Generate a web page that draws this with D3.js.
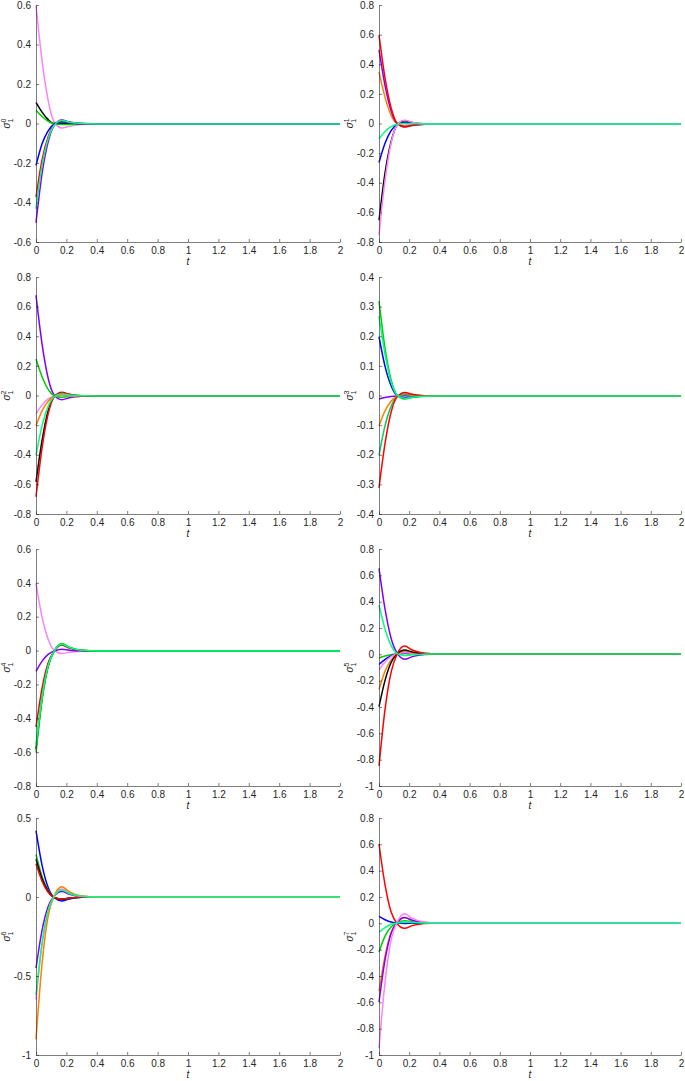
<!DOCTYPE html>
<html><head><meta charset="utf-8">
<script src="https://cdn.jsdelivr.net/npm/d3@7"></script>
<style>body{margin:0;background:#fff}svg{font-family:"Liberation Sans",Arial,sans-serif}</style>
</head><body><svg id="c" width="685" height="1081"></svg>
<script>
const T = [0,0.04,0.08,0.12,0.17,0.22,0.3,0.4,2];
const xTicks = [0,0.2,0.4,0.6,0.8,1,1.2,1.4,1.6,1.8,2];
const C = {pink:"#ff80ff",black:"#000000",green:"#00cc00",blue:"#0000ff",red:"#ff0000",spring:"#00ff80",purple:"#8000ff",orange:"#ff8000",teal:"#00cc66"};
const panels = [
 {idx:0, ylim:[-0.6,0.6], yTicks:[-0.6,-0.4,-0.2,0,0.2,0.4,0.6], series:[
  ["pink",[0.6,0.32,0.12,0.01,-0.02,-0.012,-0.003,0,0]],
  ["black",[0.11,0.06,0.022,0.002,0.004,0.002,0,0,0]],
  ["green",[0.07,0.038,0.014,0.001,-0.003,-0.002,0,0,0]],
  ["blue",[-0.21,-0.1,-0.035,0,0.012,0.006,0.001,0,0]],
  ["red",[-0.37,-0.18,-0.065,-0.005,0.018,0.009,0.002,0,0]],
  ["purple",[-0.5,-0.25,-0.09,-0.007,0.02,0.01,0.002,0,0]],
  ["spring",[-0.43,-0.21,-0.075,-0.006,0.018,0.009,0.002,0,0]]]},
 {idx:1, ylim:[-0.8,0.8], yTicks:[-0.8,-0.6,-0.4,-0.2,0,0.2,0.4,0.6,0.8], series:[
  ["orange",[0.35,0.18,0.06,0.003,-0.01,-0.005,-0.001,0,0]],
  ["purple",[0.5,0.26,0.09,0.004,-0.018,-0.009,-0.002,0,0]],
  ["red",[0.6,0.31,0.11,0.005,-0.02,-0.01,-0.002,0,0]],
  ["blue",[-0.26,-0.13,-0.045,-0.003,0.01,0.005,0.001,0,0]],
  ["black",[-0.65,-0.33,-0.12,-0.006,0.022,0.011,0.002,0,0]],
  ["pink",[-0.75,-0.38,-0.13,-0.007,0.025,0.012,0.002,0,0]],
  ["spring",[-0.1,-0.05,-0.018,-0.001,0.003,0.002,0,0,0]]]},
 {idx:2, ylim:[-0.8,0.8], yTicks:[-0.8,-0.6,-0.4,-0.2,0,0.2,0.4,0.6,0.8], series:[
  ["purple",[0.68,0.35,0.12,0.006,-0.025,-0.012,-0.002,0,0]],
  ["green",[0.25,0.13,0.045,0.002,-0.008,-0.004,-0.001,0,0]],
  ["pink",[-0.12,-0.06,-0.02,-0.001,0.005,0.002,0,0,0]],
  ["orange",[-0.2,-0.1,-0.035,-0.002,0.01,0.005,0.001,0,0]],
  ["black",[-0.58,-0.3,-0.1,-0.005,0.022,0.011,0.002,0,0]],
  ["red",[-0.68,-0.35,-0.12,-0.006,0.025,0.012,0.002,0,0]],
  ["spring",[-0.4,-0.2,-0.07,-0.004,0.015,0.007,0.001,0,0]]]},
 {idx:3, ylim:[-0.4,0.4], yTicks:[-0.4,-0.3,-0.2,-0.1,0,0.1,0.2,0.3,0.4], series:[
  ["green",[0.32,0.16,0.055,0.003,-0.01,-0.005,-0.001,0,0]],
  ["blue",[0.2,0.1,0.035,0.002,-0.006,-0.003,0,0,0]],
  ["purple",[-0.01,-0.005,-0.002,0,0.001,0,0,0,0]],
  ["orange",[-0.1,-0.05,-0.018,-0.001,0.005,0.002,0,0,0]],
  ["teal",[-0.2,-0.1,-0.035,-0.002,0.008,0.004,0.001,0,0]],
  ["red",[-0.31,-0.16,-0.055,-0.003,0.012,0.006,0.001,0,0]],
  ["spring",[0.27,0.14,0.048,0.003,-0.008,-0.004,-0.001,0,0]]]},
 {idx:4, ylim:[-0.8,0.6], yTicks:[-0.8,-0.6,-0.4,-0.2,0,0.2,0.4,0.6], series:[
  ["pink",[0.4,0.2,0.07,0.004,-0.015,-0.008,-0.002,0,0]],
  ["purple",[-0.12,-0.06,-0.02,0,0.01,0.005,0.001,0,0]],
  ["red",[-0.45,-0.22,-0.07,0,0.035,0.017,0.003,0,0]],
  ["black",[-0.58,-0.28,-0.09,0,0.04,0.02,0.004,0,0]],
  ["green",[-0.6,-0.29,-0.09,0,0.045,0.022,0.004,0,0]],
  ["spring",[-0.55,-0.27,-0.085,0,0.04,0.02,0.004,0,0]]]},
 {idx:5, ylim:[-1,0.8], yTicks:[-1,-0.8,-0.6,-0.4,-0.2,0,0.2,0.4,0.6,0.8], series:[
  ["purple",[0.65,0.34,0.12,0.006,-0.04,-0.02,-0.004,0,0]],
  ["green",[-0.03,-0.015,-0.005,0,0.003,0.001,0,0,0]],
  ["blue",[-0.08,-0.04,-0.014,0,0.006,0.003,0,0,0]],
  ["pink",[-0.12,-0.06,-0.02,0,0.01,0.005,0.001,0,0]],
  ["orange",[-0.27,-0.13,-0.045,0,0.02,0.01,0.002,0,0]],
  ["black",[-0.4,-0.2,-0.065,0,0.03,0.015,0.003,0,0]],
  ["red",[-0.85,-0.42,-0.14,0,0.06,0.03,0.006,0,0]],
  ["spring",[0.37,0.19,0.065,0.003,-0.012,-0.006,-0.001,0,0]]]},
 {idx:6, ylim:[-1,0.5], yTicks:[-1,-0.5,0,0.5], series:[
  ["blue",[0.42,0.2,0.06,-0.005,-0.025,-0.012,-0.002,0,0]],
  ["green",[0.27,0.13,0.04,-0.003,-0.015,-0.008,-0.001,0,0]],
  ["black",[0.24,0.115,0.035,-0.003,-0.013,-0.007,-0.001,0,0]],
  ["red",[0.21,0.1,0.03,-0.003,-0.012,-0.006,-0.001,0,0]],
  ["purple",[-0.45,-0.21,-0.06,0.005,0.035,0.017,0.003,0,0]],
  ["pink",[-0.65,-0.3,-0.09,0.006,0.05,0.025,0.005,0,0]],
  ["orange",[-0.9,-0.42,-0.12,0.008,0.065,0.032,0.006,0,0]],
  ["spring",[-0.62,-0.29,-0.085,0.006,0.045,0.022,0.004,0,0]]]},
 {idx:7, ylim:[-1,0.8], yTicks:[-1,-0.8,-0.6,-0.4,-0.2,0,0.2,0.4,0.6,0.8], series:[
  ["red",[0.6,0.29,0.085,-0.005,-0.04,-0.02,-0.004,0,0]],
  ["blue",[0.05,0.025,0.007,0,-0.003,-0.001,0,0,0]],
  ["green",[-0.22,-0.1,-0.03,0.002,0.018,0.009,0.002,0,0]],
  ["orange",[-0.52,-0.25,-0.07,0.004,0.04,0.02,0.004,0,0]],
  ["purple",[-0.6,-0.28,-0.08,0.004,0.042,0.021,0.004,0,0]],
  ["pink",[-0.95,-0.45,-0.13,0.006,0.07,0.035,0.007,0,0]],
  ["spring",[-0.07,-0.035,-0.01,0,0.008,0.004,0,0,0]]]}
];
const svg = d3.select("#c");
const lefts = [[36,340],[379,681]];
const tops = [5,277,549,818];
const H = 237;
const fmt = d => String(+d.toFixed(2));
panels.forEach(p => {
  const col = p.idx % 2, row = Math.floor(p.idx/2);
  const x = d3.scaleLinear().domain([0,2]).range(lefts[col]);
  const y = d3.scaleLinear().domain(p.ylim).range([tops[row]+H, tops[row]]);
  const g = svg.append("g");
  const y0 = y(0), off = Math.round(y0) - y0;
  const lg = g.append("g").attr("transform",`translate(0,${off})`);
  const line = d3.line().x((d,i)=>x(T[i])).y(d=>y(d)).curve(d3.curveMonotoneX);
  p.series.forEach(([c,vals]) => {
    lg.append("path").attr("d", line(vals)).attr("fill","none").attr("stroke",C[c]).attr("stroke-width",1.5);
  });
  const ax = g.append("g").attr("transform",`translate(0,${tops[row]+H})`)
    .call(d3.axisBottom(x).tickValues(xTicks).tickFormat(fmt).tickSizeInner(-3).tickSizeOuter(0).tickPadding(5));
  const ay = g.append("g").attr("transform",`translate(${lefts[col][0]},0)`)
    .call(d3.axisLeft(y).tickValues(p.yTicks).tickFormat(fmt).tickSizeInner(-3).tickSizeOuter(0).tickPadding(5));
  [ax,ay].forEach(a=>{a.selectAll("path,line").attr("stroke","#262626").attr("stroke-width",0.6);
    a.selectAll("text").attr("fill","#262626").attr("font-size",10);});
  g.append("text").attr("x",(lefts[col][0]+lefts[col][1])/2).attr("y",tops[row]+H+23)
    .attr("text-anchor","middle").attr("font-style","italic").attr("font-size",10).attr("fill","#262626").text("t");
  const yl = g.append("text").attr("transform",`translate(${lefts[col][0]-26},${tops[row]+H/2}) rotate(-90)`)
    .attr("text-anchor","middle").attr("font-size",10).attr("fill","#262626").attr("font-style","italic");
  yl.append("tspan").text("σ");
  yl.append("tspan").attr("font-size",7).attr("dy",-4).attr("font-style","normal").text(String(p.idx));
  yl.append("tspan").attr("font-size",7).attr("dx",-4).attr("dy",7).attr("font-style","normal").text("1");
});
</script></body></html>
